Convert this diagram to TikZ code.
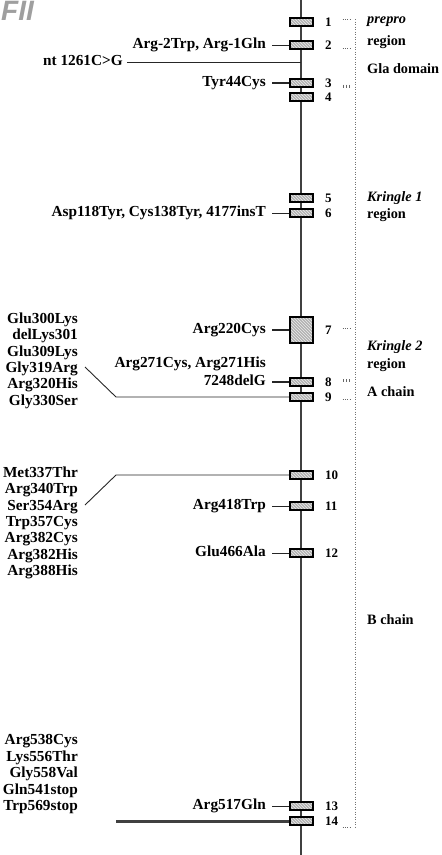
\documentclass[tikz,border=0pt]{standalone}
\usepackage{fontspec}
\setmainfont{Liberation Serif}
\newfontfamily\headfont{Liberation Sans}
\usetikzlibrary{patterns}
\begin{document}
\begin{tikzpicture}[x=1pt,y=-1pt,
  exon/.style={draw=black, line width=1.6pt, preaction={fill=gray!60}, pattern=north west lines, pattern color=white!85!gray, minimum width=23pt, minimum height=8pt, inner sep=0pt},
  mut/.style={font=\fontsize{15.3}{16}\selectfont\bfseries, anchor=east, inner xsep=6pt, inner ysep=0pt, text height=10pt, text depth=3pt},
  grp/.style={font=\fontsize{15.3}{16.4}\selectfont\bfseries, anchor=north east, align=right, inner sep=0pt},
  num/.style={font=\fontsize{13}{13}\selectfont\bfseries, anchor=west, inner sep=0pt},
  reg/.style={font=\fontsize{14.3}{16}\selectfont\bfseries, anchor=west, inner sep=0pt},
  conn/.style={line width=0.9pt, black!85},
  tconn/.style={line width=1.8pt, black!85},
  dotmark/.style={line width=0.8pt, black!60, dash pattern=on 0.8pt off 1.6pt},
  tickmark/.style={line width=0.7pt, black!60}
]
\useasboundingbox (0,0) rectangle (442,855);
\node[font=\headfont\bfseries\itshape\fontsize{28}{28}\selectfont, text=gray!75, anchor=north west, inner sep=0pt] (title) at (1,1) {FII};
% spine
\coordinate (top) at (301,0);
\coordinate (bot) at (301,855);
\draw[line width=1.4pt, black!75] (top) -- (bot);
% dotted region line
\coordinate (dtop) at (355,19);
\coordinate (dbot) at (355,827);
\draw[line width=0.9pt, black!55, dash pattern=on 1pt off 1.5pt] (dtop) -- (dbot);
% exons
\foreach \n/\y in {1/22,2/45,3/83,4/97,5/198,6/213,8/382,9/397,10/475,11/506,12/553,13/806,14/821}{
  \node[exon] (b\n) at (301.5,\y) {};
  \node[num] (n\n) at (325,\y) {\n};
}
\node[exon, minimum height=26pt] (b7) at (301.5,330) {};
\node[num] (n7) at (325,330) {7};
% mutation labels
\node[mut] (t2) at (272,45) {Arg-2Trp, Arg-1Gln};
\draw[conn] (t2.east) -- (b2.west);
\node[mut, inner xsep=4pt] (tnt) at (127,62) {nt 1261C>G};
\coordinate (snt) at (301,62);
\draw[conn] (tnt.east) -- (snt);
\node[mut] (t3) at (272,83) {Tyr44Cys};
\draw[tconn] (t3.east) -- (b3.west);
\node[mut] (t6) at (272,213) {Asp118Tyr, Cys138Tyr, 4177insT};
\draw[conn] (t6.east) -- (b6.west);
\node[mut] (t7) at (272,330) {Arg220Cys};
\draw[tconn] (t7.east) -- (b7.west);
\node[mut] (t8a) at (272,364) {Arg271Cys, Arg271His};
\node[mut] (t8) at (272,382) {7248delG};
\draw[tconn] (t8.east) -- (b8.west);
\node[mut] (t11) at (272,506) {Arg418Trp};
\draw[conn] (t11.east) -- (b11.west);
\node[mut] (t12) at (272,553) {Glu466Ala};
\draw[conn] (t12.east) -- (b12.west);
\node[mut] (t13) at (272,806) {Arg517Gln};
\draw[conn] (t13.east) -- (b13.west);
% left groups
\node[grp] (g1) at (78,312.5) {Glu300Lys\\delLys301\\Glu309Lys\\Gly319Arg\\Arg320His\\Gly330Ser};
\coordinate (g1a) at (85,367);
\coordinate (g1b) at (116,397);
\draw[conn] (g1a) -- (g1b) -- (b9.west);
\node[grp] (g2) at (78,466.5) {Met337Thr\\Arg340Trp\\Ser354Arg\\Trp357Cys\\Arg382Cys\\Arg382His\\Arg388His};
\coordinate (g2a) at (85,505);
\coordinate (g2b) at (116,475);
\draw[conn] (g2a) -- (g2b) -- (b10.west);
\node[grp] (g3) at (78,734.5) {Arg538Cys\\Lys556Thr\\Gly558Val\\Gln541stop\\Trp569stop};
\coordinate (g3b) at (116,821);
\draw[line width=3pt, black!75] (g3b) -- (b14.west);
% region labels
\node[reg] (r1) at (367,22) {\itshape prepro};
\node[reg] (r1b) at (367,42) {region};
\node[reg] (r2) at (367,69) {Gla domain};
\node[reg] (r3) at (367,198) {\itshape Kringle 1};
\node[reg] (r3b) at (367,215) {region};
\node[reg] (r4) at (367,347) {\itshape Kringle 2};
\node[reg] (r4b) at (367,365) {region};
\node[reg] (r5) at (367,392) {A chain};
\node[reg] (r6) at (367,620) {B chain};
% small dot marks
\draw[dotmark] (342.5,19) -- (351,19);
\draw[dotmark] (342.5,48.5) -- (351,48.5);
\draw[dotmark] (342.5,399.5) -- (351,399.5);
\draw[dotmark] (342.5,827) -- (351,827);
\draw[dotmark] (342.5,328) -- (351,328);
\foreach \x in {343.5,346.5,349.5}{
  \draw[tickmark] (\x,84.5) -- (\x,87.5);
  \draw[tickmark] (\x,379) -- (\x,382);
}
\end{tikzpicture}
\end{document}
